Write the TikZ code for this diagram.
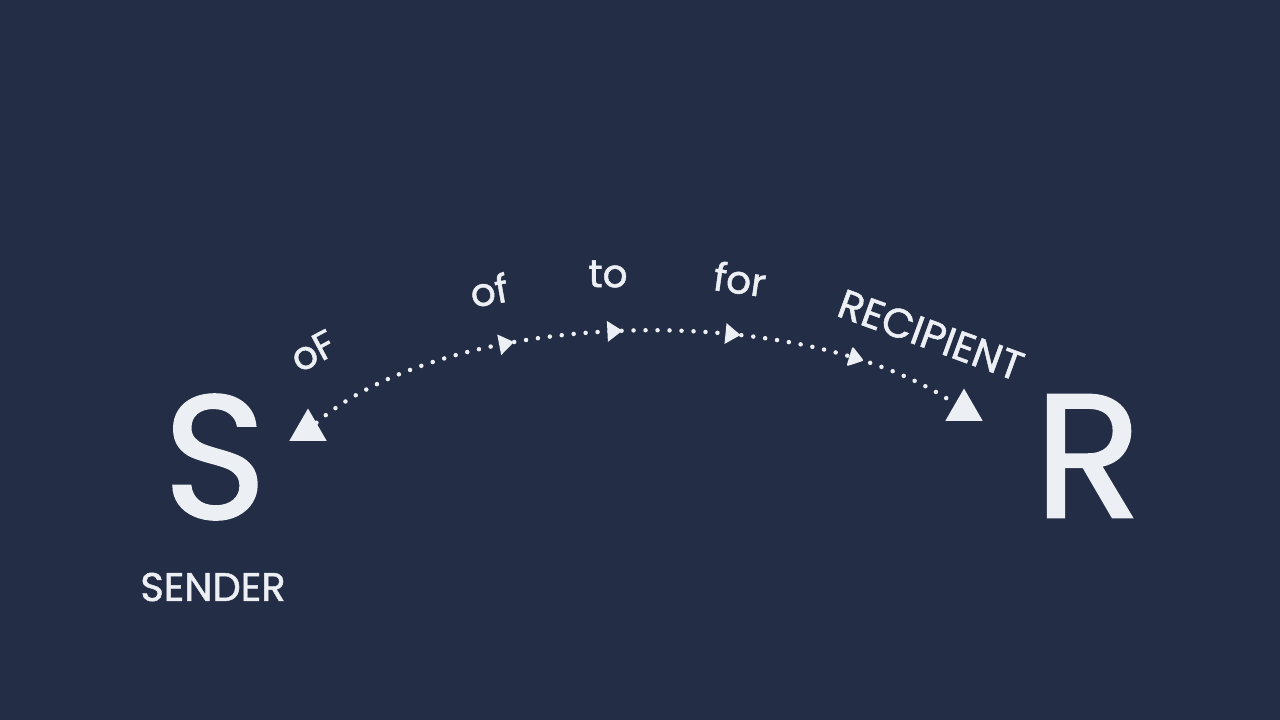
\documentclass[tikz,border=0pt]{standalone}
\usepackage{fontspec}
\setmainfont{Poppins}[FakeBold=1.2]
\usetikzlibrary{shapes.geometric}

\begin{document}
\begin{tikzpicture}[x=1pt, y=-1pt]
  % Define colors
  \definecolor{navybg}{RGB}{35,45,69}
  \definecolor{chalk}{RGB}{236,239,243}
  \tikzset{
    bigletter/.style={text=chalk, font=\fontsize{176}{176}\selectfont, inner sep=0pt},
    word/.style={text=chalk, font=\fontsize{39}{39}\selectfont, inner sep=0pt},
    endtip/.style={fill=chalk, regular polygon, regular polygon sides=3, minimum size=43pt, inner sep=0pt},
    midtip/.style={fill=chalk, isosceles triangle, isosceles triangle apex angle=70, minimum height=15pt, minimum width=17pt, inner sep=0pt, sloped},
    dotline/.style={chalk, line width=4.5pt, line cap=round, dash pattern=on 0pt off 12pt}
  }

  % Background
  \fill[navybg] (0,0) rectangle (1280,720);
  \useasboundingbox (0,0) rectangle (1280,720);

  % Sender and recipient letters
  \node[bigletter] (S) at (215,457) {S};
  \node[word, font=\fontsize{40}{40}\selectfont] (sender) at (213,587) {SENDER};
  \node[bigletter] (R) at (1088,456) {R};

  % End tips of the arc
  \node[endtip] (tipS) at (308,430) {};
  \node[endtip] (tipR) at (964,410) {};

  % Dotted arc with the small tips along it
  \draw[dotline] (tipS) .. controls (450,308) and (800,298) .. (tipR)
    node[midtip, pos=0.33] (tip1) {}
    node[midtip, pos=0.48] (tip2) {}
    node[midtip, pos=0.64] (tip3) {}
    node[midtip, pos=0.82, rounded corners=2pt] (tip4) {};

  % Words over the arc
  \node[word, rotate=28] (of1) at (313,351) {oF};
  \node[word, rotate=10] (of2) at (489,290) {of};
  \node[word] (to) at (608,274) {to};
  \node[word, rotate=-8] (for) at (740,279) {for};
  \node[word, font=\fontsize{41}{41}\selectfont, rotate=-20] (recipient) at (931,335) {RECIPIENT};
\end{tikzpicture}
\end{document}
